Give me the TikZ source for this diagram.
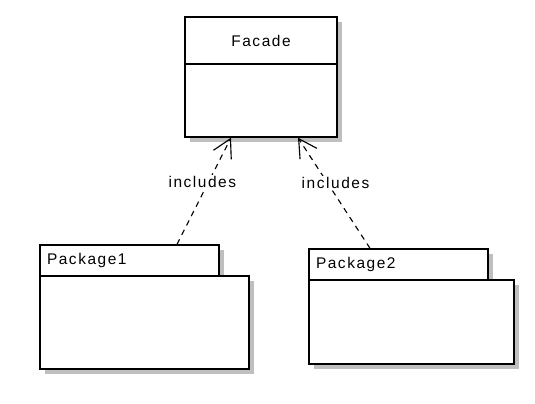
\documentclass[tikz,border=0pt]{standalone}
\usepackage{fontspec}
\setmainfont{Liberation Sans}[LetterSpace=10.0]
\usetikzlibrary{shadows,arrows.meta}
\begin{document}
\begin{tikzpicture}

      \tikzset{box/.style={draw, line width=1pt, fill=white, inner sep=0pt,
                 drop shadow={shadow xshift=.125cm, shadow yshift=-.125cm, fill=black!25, opacity=1},
                 font=\fontsize{11}{13}\selectfont},
               tab/.style={box, minimum width=4.475cm, minimum height=.775cm, text width=4.125cm, align=left},
               dep/.style={dash pattern=on 4pt off 3.5pt, line width=.8pt, -{Straight Barb[length=.45cm, width=.5cm]}},
               lbl/.style={fill=white, inner sep=1pt, font=\fontsize{11}{13}\selectfont}}
      \useasboundingbox (0,0) rectangle (13.375,10.075);
%% Facade
      	\node[box, minimum width=3.8cm, minimum height=1.175cm] (facade) at (6.525,9.0625) {Facade};
      	\node[box, minimum width=3.8cm, minimum height=1.825cm] (facadebody) at (6.525,7.5625) {};
%% Packages
    	\node[tab] (pkg1tab) at (3.2375,3.5625) {Package1};
    	\node[box, minimum width=5.225cm, minimum height=2.325cm] (pkg1) at (3.6125,2.0125) {};
  	    \node[tab] (pkg2tab) at (9.9625,3.4625) {Package2};
     	\node[box, minimum width=5.125cm, minimum height=2.1cm] (pkg2) at (10.2875,2.025) {};
%Edges
		\path[dep] ([xshift=1.1875cm]pkg1tab.north) edge node[lbl, pos=.58, xshift=-.15cm] {includes} ([xshift=-.75cm]facadebody.south);
		\path[dep] ([xshift=-.7125cm]pkg2tab.north) edge node[lbl, pos=.59, xshift=.2cm] {includes} ([xshift=.925cm]facadebody.south);

	\end{tikzpicture}
\end{document}
